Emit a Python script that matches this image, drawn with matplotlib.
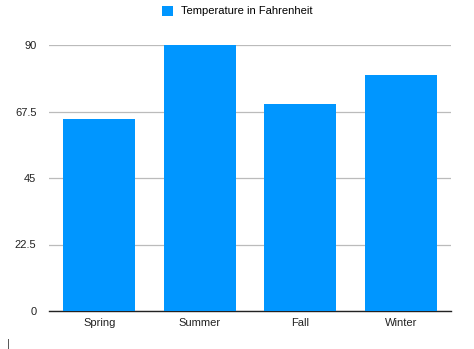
import matplotlib
matplotlib.use("Agg")
import matplotlib.pyplot as plt
from matplotlib.patches import Patch

categories = ["Spring", "Summer", "Fall", "Winter"]
values = [65, 90, 70, 80]
yticks = [0, 22.5, 45, 67.5, 90]
ytick_labels = ["0", "22.5", "45", "67.5", "90"]
series_name = "Temperature in Fahrenheit"

plt.rcParams['font.family'] = ['Liberation Sans', 'DejaVu Sans']
color = "#0096FF"

fig = plt.figure(figsize=(4.74, 3.49), dpi=100)
ax = fig.add_axes([49/474, 1-311/349, 402/474, 266/349])
x = range(len(categories))
ax.bar(x, values, width=0.72, color=color, zorder=3)
ax.set_xlim(-0.5, len(categories) - 0.5)
ax.set_ylim(0, 90)
ax.set_yticks(yticks)
ax.set_yticklabels(ytick_labels)
ax.set_xticks(list(x))
ax.set_xticklabels(categories)
ax.tick_params(axis='both', length=0, labelsize=8, colors='#222222')
ax.tick_params(axis='y', pad=9)
ax.tick_params(axis='x', pad=5)
for s in ['top', 'right', 'left']:
    ax.spines[s].set_visible(False)
ax.spines['bottom'].set_color('#222222')
ax.spines['bottom'].set_linewidth(1.0)
ax.yaxis.grid(True, color='#bbbbbb', linewidth=0.9, zorder=0)
ax.set_axisbelow(True)

fig.legend(handles=[Patch(facecolor=color, edgecolor='none', label=series_name)],
           loc='center', bbox_to_anchor=(0.5, 1-11/349), frameon=False,
           fontsize=8, handlelength=1.05, handleheight=1.05, handletextpad=0.7)
fig.text(8/474, 1-344/349, "|", fontsize=8, color='#444444', ha='center', va='center')
fig.savefig("out.png", dpi=100)
